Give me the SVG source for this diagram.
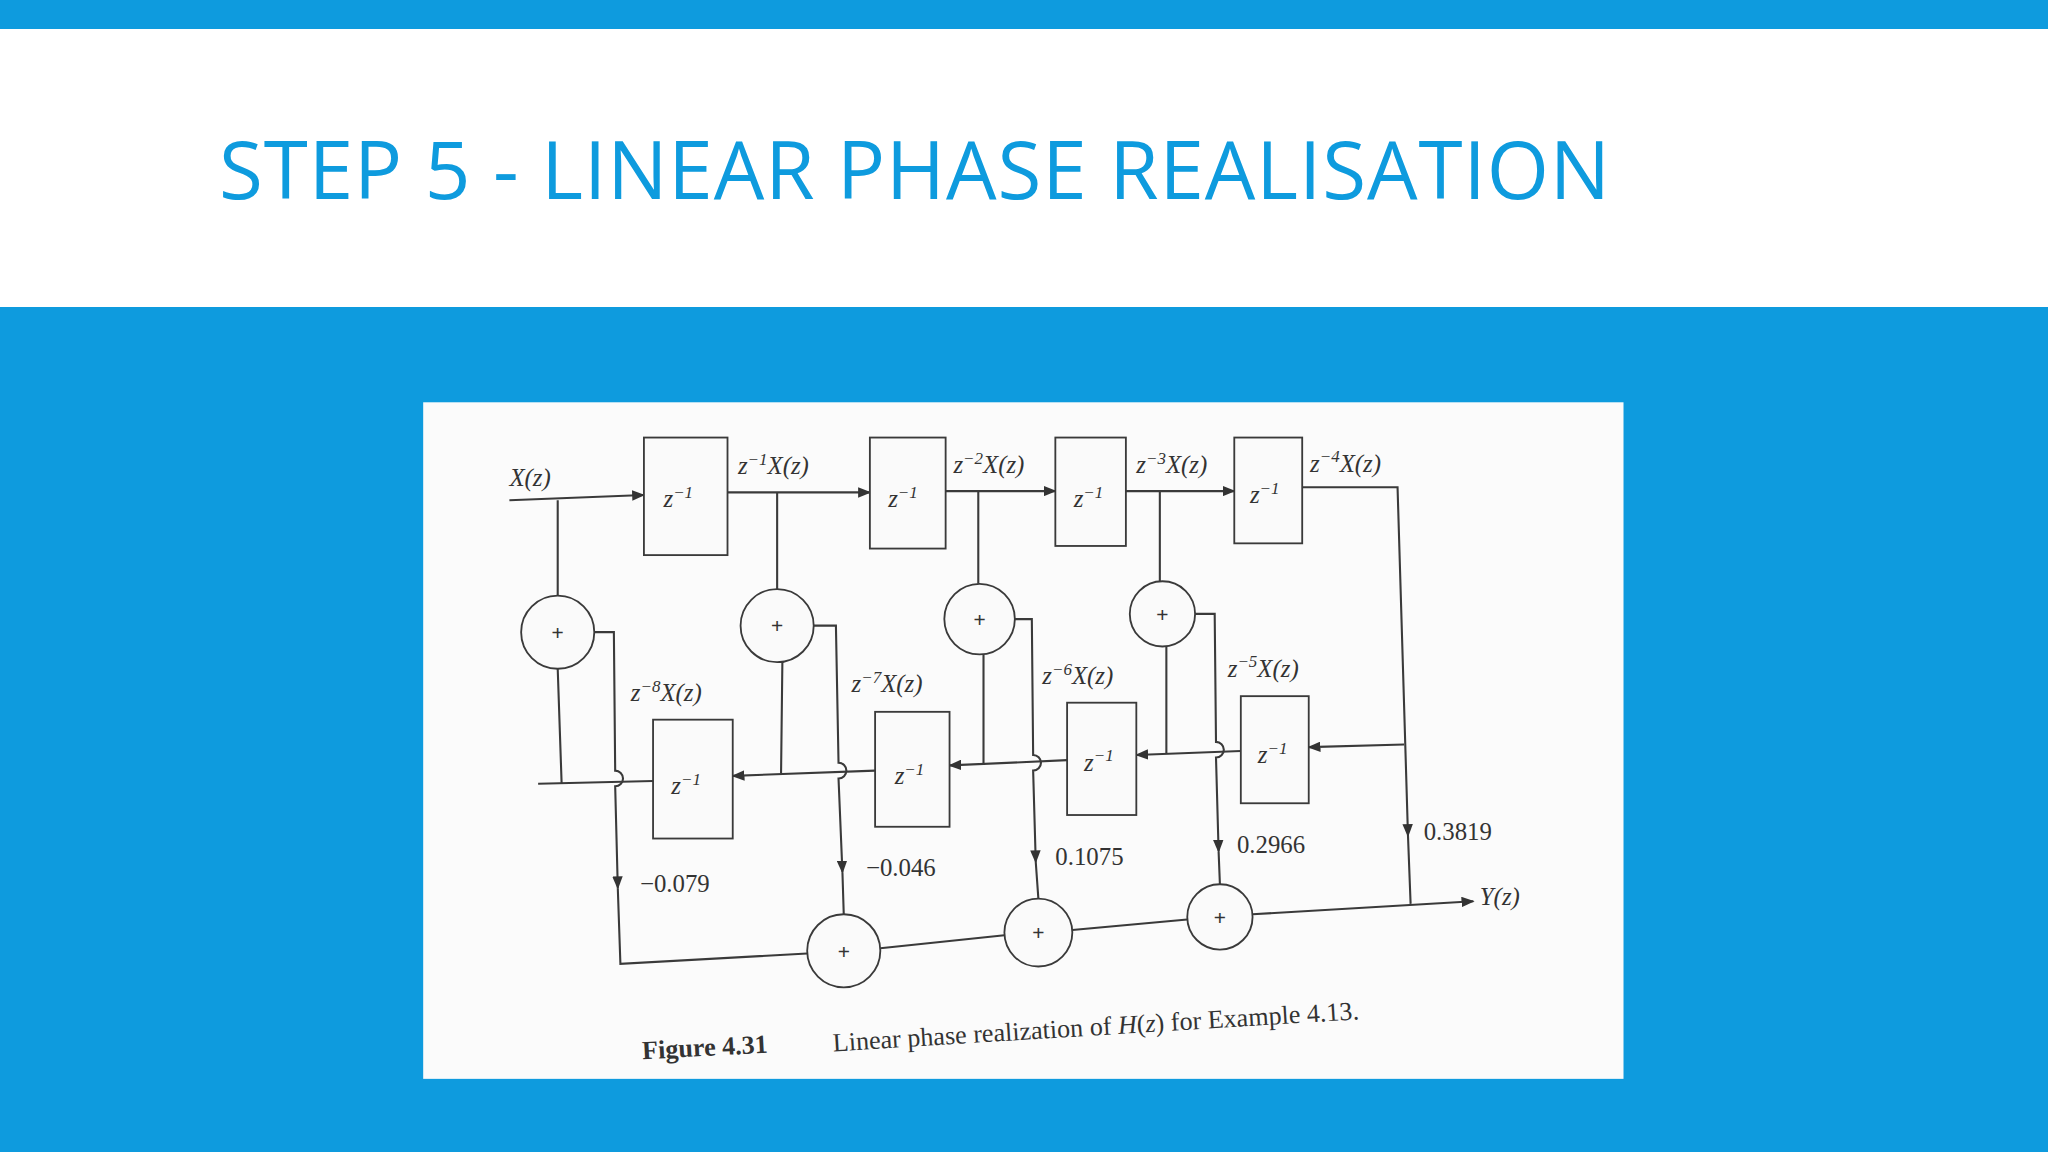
<svg xmlns="http://www.w3.org/2000/svg" width="2048" height="1152" viewBox="0 0 2048 1152">
<style>
.l{stroke:#3a3a3a;stroke-width:1.6;fill:none}
.b{stroke:#3a3a3a;stroke-width:1.4;fill:#fafafa}
.t{font-family:"Liberation Serif",serif;font-style:italic;fill:#333;font-size:19px}
.n{font-family:"Liberation Serif",serif;fill:#333;font-size:19px}
.p{font-family:"Liberation Sans",sans-serif;fill:#333;font-size:16px}
</style>
<defs><marker id="a" markerWidth="10" markerHeight="8" refX="9" refY="4" orient="auto" markerUnits="userSpaceOnUse"><path d="M0,0L10,4L0,8z" fill="#333"/></marker></defs>
<rect width="2048" height="1152" fill="#0E9BDE"/>
<rect y="29" width="2048" height="278" fill="#fff"/>
<text x="219" y="199" font-family="Open Sans, sans-serif" font-size="80" fill="#0E9BDE" textLength="1391">STEP 5 -  LINEAR PHASE REALISATION</text>
<g transform="scale(1.30612)">
<rect x="324" y="308" width="919" height="518" fill="#fbfbfb"/>
<g id="connectors">
<path class="l" d="M390,383L493,379" marker-end="url(#a)"/>
<path class="l" d="M557,377L666,377" marker-end="url(#a)"/>
<path class="l" d="M724,376L808,376" marker-end="url(#a)"/>
<path class="l" d="M862,376L945,376" marker-end="url(#a)"/>
<path class="l" d="M997,373L1070,373L1078,640" marker-end="url(#a)"/>
<path class="l" d="M427,383V456M595,377V451M749,376V447M888,376V445"/>
<path class="l" d="M1075,570L1002,572" marker-end="url(#a)"/>
<path class="l" d="M950,575L870,578" marker-end="url(#a)"/>
<path class="l" d="M817,582L727,586" marker-end="url(#a)"/>
<path class="l" d="M670,590L561,594" marker-end="url(#a)"/>
<path class="l" d="M500,598L412,600"/>
<path class="l" d="M427,512L430,600M599,507L598,592M753,501V585M893,495V577"/>
<path class="l" d="M455,484H470L471,590a5,5 0 0 1 0,12L473,680" marker-end="url(#a)"/>
<path class="l" d="M623,479H640L642,584a5,5 0 0 1 0,12L645,668" marker-end="url(#a)"/>
<path class="l" d="M777,474H790L791,578a5,5 0 0 1 0,12L793,660" marker-end="url(#a)"/>
<path class="l" d="M915,470H930L931,568a5,5 0 0 1 0,12L933,652" marker-end="url(#a)"/>
<path class="l" d="M645,668L646,700M793,660L795,688M933,652L934,677M1078,640L1080,692"/>
<path class="l" d="M473,680L475,738L618,730M674,726L769,716M821,712L909,704"/>
<path class="l" d="M959,700L1128,690" marker-end="url(#a)"/>
</g>
<g id="d1"><rect class="b" x="493" y="335" width="64" height="90"/><text class="t" x="508" y="388">z<tspan dy="-7" font-size="13">−1</tspan></text></g>
<g id="d2"><rect class="b" x="666" y="335" width="58" height="85"/><text class="t" x="680" y="388">z<tspan dy="-7" font-size="13">−1</tspan></text></g>
<g id="d3"><rect class="b" x="808" y="335" width="54" height="83"/><text class="t" x="822" y="388">z<tspan dy="-7" font-size="13">−1</tspan></text></g>
<g id="d4"><rect class="b" x="945" y="335" width="52" height="81"/><text class="t" x="957" y="385">z<tspan dy="-7" font-size="13">−1</tspan></text></g>
<g id="d8"><rect class="b" x="500" y="551" width="61" height="91"/><text class="t" x="514" y="608">z<tspan dy="-7" font-size="13">−1</tspan></text></g>
<g id="d7"><rect class="b" x="670" y="545" width="57" height="88"/><text class="t" x="685" y="600">z<tspan dy="-7" font-size="13">−1</tspan></text></g>
<g id="d6"><rect class="b" x="817" y="538" width="53" height="86"/><text class="t" x="830" y="590">z<tspan dy="-7" font-size="13">−1</tspan></text></g>
<g id="d5"><rect class="b" x="950" y="533" width="52" height="82"/><text class="t" x="963" y="584">z<tspan dy="-7" font-size="13">−1</tspan></text></g>
<g id="s1"><circle class="b" cx="427" cy="484" r="28"/><text class="p" x="427" y="490" text-anchor="middle">+</text></g>
<g id="s2"><circle class="b" cx="595" cy="479" r="28"/><text class="p" x="595" y="485" text-anchor="middle">+</text></g>
<g id="s3"><circle class="b" cx="750" cy="474" r="27"/><text class="p" x="750" y="480" text-anchor="middle">+</text></g>
<g id="s4"><circle class="b" cx="890" cy="470" r="25"/><text class="p" x="890" y="476" text-anchor="middle">+</text></g>
<g id="s5"><circle class="b" cx="646" cy="728" r="28"/><text class="p" x="646" y="734" text-anchor="middle">+</text></g>
<g id="s6"><circle class="b" cx="795" cy="714" r="26"/><text class="p" x="795" y="720" text-anchor="middle">+</text></g>
<g id="s7"><circle class="b" cx="934" cy="702" r="25"/><text class="p" x="934" y="708" text-anchor="middle">+</text></g>
<g id="labels">
<text class="t" x="390" y="372">X(z)</text>
<text class="t" x="565" y="363">z<tspan dy="-7" font-size="13">−1</tspan><tspan dy="7">X(z)</tspan></text>
<text class="t" x="730" y="362">z<tspan dy="-7" font-size="13">−2</tspan><tspan dy="7">X(z)</tspan></text>
<text class="t" x="870" y="362">z<tspan dy="-7" font-size="13">−3</tspan><tspan dy="7">X(z)</tspan></text>
<text class="t" x="1003" y="361">z<tspan dy="-7" font-size="13">−4</tspan><tspan dy="7">X(z)</tspan></text>
<text class="t" x="483" y="537">z<tspan dy="-7" font-size="13">−8</tspan><tspan dy="7">X(z)</tspan></text>
<text class="t" x="652" y="530">z<tspan dy="-7" font-size="13">−7</tspan><tspan dy="7">X(z)</tspan></text>
<text class="t" x="798" y="524">z<tspan dy="-7" font-size="13">−6</tspan><tspan dy="7">X(z)</tspan></text>
<text class="t" x="940" y="518">z<tspan dy="-7" font-size="13">−5</tspan><tspan dy="7">X(z)</tspan></text>
<text class="n" x="490" y="683">−0.079</text>
<text class="n" x="663" y="671">−0.046</text>
<text class="n" x="808" y="662">0.1075</text>
<text class="n" x="947" y="653">0.2966</text>
<text class="n" x="1090" y="643">0.3819</text>
<text class="t" x="1133" y="693">Y(z)</text>
<text x="492" y="811" font-family="Liberation Serif, serif" font-weight="bold" font-size="20" fill="#333" transform="rotate(-3 492 811)">Figure 4.31</text>
<text x="638" y="805" font-family="Liberation Serif, serif" font-size="20" fill="#333" transform="rotate(-3.5 638 805)">Linear phase realization of <tspan font-style="italic">H</tspan>(<tspan font-style="italic">z</tspan>) for Example 4.13.</text>
</g>
</g>
</svg>
